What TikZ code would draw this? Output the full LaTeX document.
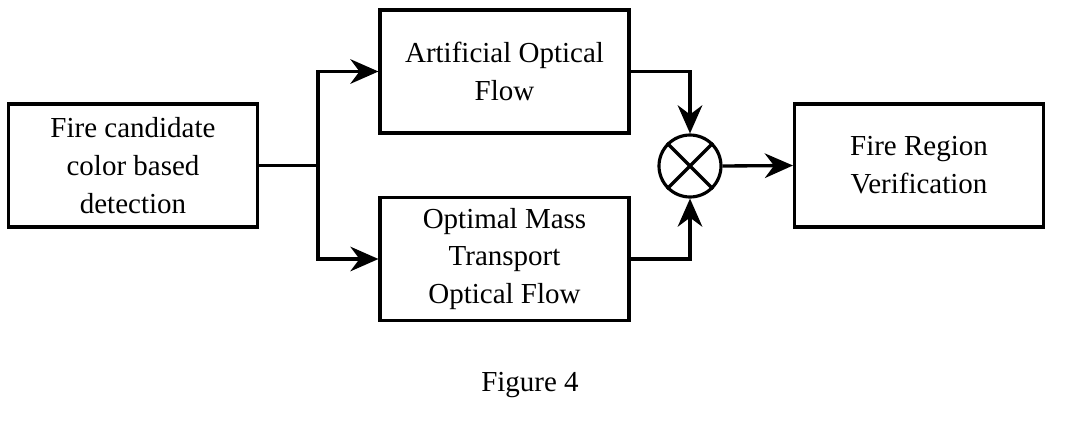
\documentclass[tikz,border=0pt]{standalone}
\usepackage{fontspec}
\setmainfont{Liberation Serif}
\usetikzlibrary{arrows.meta}
\begin{document}
\begin{tikzpicture}[x=0.02cm,y=-0.02cm,
  box/.style={draw,line width=1.8pt,minimum width=4.98cm,minimum height=2.46cm,align=center,font=\fontsize{16.5}{21.5}\selectfont},
  ln/.style={line width=1.9pt},
  ar/.style={ln,-{Stealth[length=16pt,width=14pt]}}]
\useasboundingbox (0,0) rectangle (1066,420);
\node[box] (cand) at (133,165.5) {Fire candidate\\color based\\detection};
\node[box] (aof) at (504.5,71.5) {Artificial Optical\\Flow};
\node[box] (omt) at (504.5,259) {Optimal Mass\\Transport\\Optical Flow};
\node[box] (ver) at (919,165.5) {Fire Region\\Verification};
\node[draw,circle,line width=1.8pt,minimum size=1.24cm,inner sep=0pt] (mul) at (690,166) {};
\draw[ln] (mul.45) -- (mul.225) (mul.135) -- (mul.315);
\coordinate (j) at (318,165.5);
\draw[ln] (cand.east) -- (j);
\draw[ar] (j) |- (aof.west);
\draw[ar] (j) |- (omt.west);
\draw[ar] (aof.east) -| (mul.north);
\draw[ar] (omt.east) -| (mul.south);
\draw[ar] (mul.east) -- (ver.west);
\node[font=\fontsize{16.5}{19}\selectfont] (cap) at (530,385) {Figure 4};
\end{tikzpicture}
\end{document}
